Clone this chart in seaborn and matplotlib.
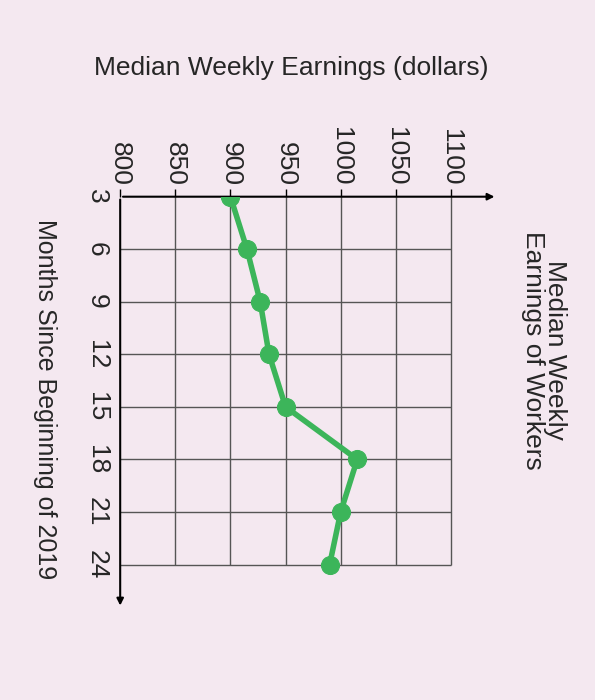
import matplotlib
matplotlib.use("Agg")
import matplotlib.pyplot as plt
import seaborn as sns
import pandas as pd

months = [3, 6, 9, 12, 15, 18, 21, 24]
earnings = [900, 915, 927, 935, 950, 1015, 1000, 990]
earn_ticks = [800, 850, 900, 950, 1000, 1050, 1100]

sns.set_style("white")
plt.rcParams['font.family'] = ['Liberation Sans', 'DejaVu Sans']
bg = "#f4e8f0"
green = "#3cb55a"

fig = plt.figure(figsize=(5.95, 7), dpi=100, facecolor=bg)
ax = fig.add_axes([0.202, 0.136, 0.630, 0.583])
ax.set_facecolor(bg)
ax.set_xlim(800, 1140)
ax.set_ylim(26.3, 3)

# grid limited to data region
ax.vlines(earn_ticks[1:], 3, 24, color="#555555", lw=1)
ax.hlines(months[1:], 800, 1100, color="#555555", lw=1)

df = pd.DataFrame({"months": months, "earnings": earnings})
sns.lineplot(data=df, x="earnings", y="months", sort=False, color=green, lw=4,
             marker="o", markersize=13, markeredgecolor=green, ax=ax, zorder=5)

for s in ax.spines.values():
    s.set_visible(False)
ax.annotate("", xy=(1142, 3), xytext=(800, 3),
            arrowprops=dict(arrowstyle="-|>", color="black", lw=1.5), annotation_clip=False)
ax.annotate("", xy=(800, 26.5), xytext=(800, 3),
            arrowprops=dict(arrowstyle="-|>", color="black", lw=1.5), annotation_clip=False)

ax.xaxis.tick_top()
ax.set_xticks(earn_ticks)
ax.set_xticklabels([str(t) for t in earn_ticks], rotation=-90, fontsize=19)
ax.set_yticks(months)
ax.set_yticklabels([str(m) for m in months], rotation=-90, fontsize=19, va="center")
ax.tick_params(direction="out", length=6, width=1, color="black", pad=2)
ax.set_xlabel("")
ax.set_ylabel("")

fig.text(0.49, 0.903, "Median Weekly Earnings (dollars)", fontsize=19, ha="center", va="center")
fig.text(0.075, 0.43, "Months Since Beginning of 2019", fontsize=18, rotation=-90,
         ha="center", va="center")
fig.text(0.915, 0.5, "Median Weekly\nEarnings of Workers", fontsize=19, rotation=-90,
         ha="center", va="center", linespacing=0.9)

fig.savefig("out.png", dpi=100, facecolor=bg)
